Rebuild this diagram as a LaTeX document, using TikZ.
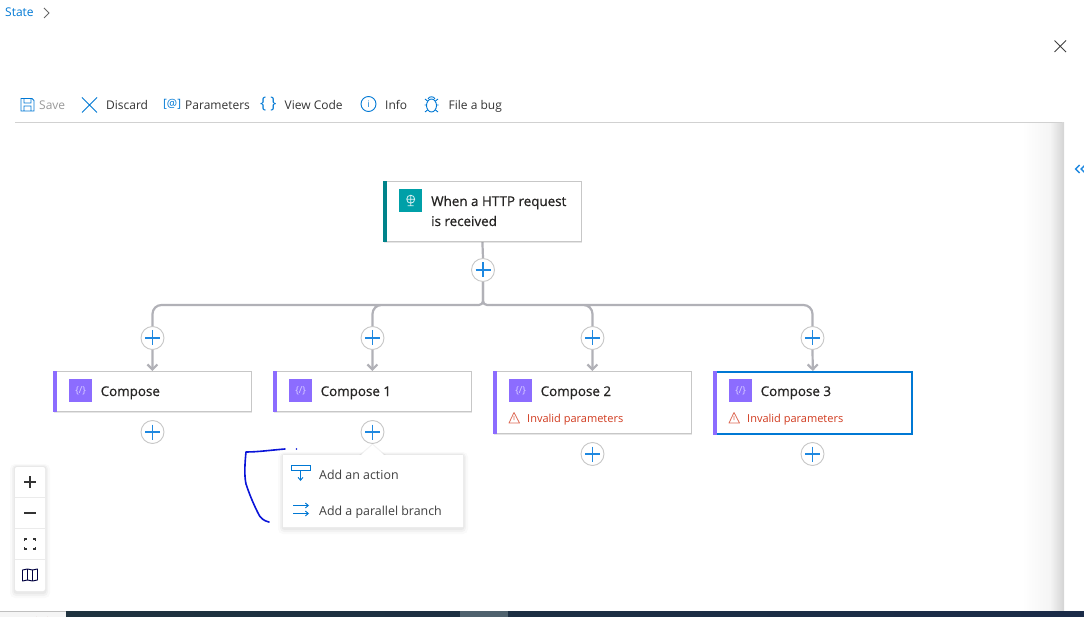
\documentclass[tikz,border=0pt]{standalone}
\usepackage{fontspec}
\setmainfont{Open Sans}
\newfontfamily\cardfont[FakeBold=0.7]{Open Sans}
\usepackage{tikz}
\usetikzlibrary{calc,shapes,positioning}
\usetikzlibrary{shadows,backgrounds}
\usetikzlibrary{arrows.meta}
\tikzset{>={Straight Barb[width=10pt,length=5pt]}}
\definecolor{azure}{HTML}{0078D4}
\definecolor{plusblue}{HTML}{1E88E0}
\definecolor{wiregray}{HTML}{B1B1B7}
\definecolor{compviolet}{HTML}{8C6CFF}
\definecolor{trigteal}{HTML}{00A0A8}
\definecolor{trigbar}{HTML}{00838A}
\definecolor{errred}{HTML}{D13A1E}
\definecolor{inkdark}{HTML}{252423}
\definecolor{penblue}{HTML}{0A14D8}
\definecolor{barteal}{HTML}{1F333F}
\definecolor{barnavy}{HTML}{1B2B48}
\definecolor{barpatch}{HTML}{4F626E}
\newcommand{\softshadow}[4]{%
  \fill[black, opacity=0.02, rounded corners=5pt] (#1-5,#2-3) rectangle (#3+5,#4+7);
  \fill[black, opacity=0.03, rounded corners=4pt] (#1-3,#2-2) rectangle (#3+3,#4+5);
  \fill[black, opacity=0.035, rounded corners=3pt] (#1-1.5,#2-1) rectangle (#3+1.5,#4+3);
}

\begin{document}
\begin{tikzpicture}[x=1pt,y=-1pt]
      \useasboundingbox (0,0) rectangle (1084,617);
      \tikzstyle{cardnode} = [draw=black!22, line width=0.8pt, fill=white, inner sep=0pt, anchor=north west, minimum width=198pt,
        minimum height=40pt, drop shadow={shadow xshift=0.4pt, shadow yshift=-1.5pt, opacity=0.2}]
      \tikzstyle{cardtext} = [anchor=base west, inner sep=0pt, font=\cardfont\fontsize{13.4}{16}\selectfont, text=inkdark]
      \tikzstyle{menutext} = [anchor=base west, inner sep=0pt, font=\fontsize{12.4}{15}\selectfont, text=black!75]
      \tikzstyle{tooltext} = [anchor=base west, inner sep=0pt, font=\fontsize{12}{15}\selectfont, text=black!80]
      \tikzstyle{errtext} = [anchor=base west, inner sep=0pt, font=\fontsize{11}{14}\selectfont, text=errred]
      \tikzstyle{addnode} = [circle, draw=black!22, line width=0.9pt, fill=white, minimum size=23pt, inner sep=0pt,
        path picture={\draw[plusblue, line width=1.5pt] ($(path picture bounding box.center)+(-7.5,0)$) -- ($(path picture bounding box.center)+(7.5,0)$)
          ($(path picture bounding box.center)+(0,-7.5)$) -- ($(path picture bounding box.center)+(0,7.5)$);}]
      \tikzstyle{iconnode} = [fill=compviolet, anchor=north west, minimum size=23pt, inner sep=0pt, text=white!70!compviolet,
        font=\fontsize{9.5}{9}\selectfont]
      \tikzstyle{wire} = [draw=wiregray, line width=2.2pt]
      \tikzstyle{tick} = [azure, line width=0.9pt]

      % right hand panel edge and bottom bar
      \fill[left color=white, right color=black!4] (1022,123) rectangle (1050,611);
      \fill[left color=black!4, right color=black!17] (1050,123) rectangle (1064,611);
      \fill[black!4] (0,611) rectangle (66,617);
      \draw[black!25, line width=0.8pt] (0,611) -- (66,611);
      \draw[red!60!black, line width=0.9pt] (36,617) arc[start angle=180, end angle=360, radius=6, y radius=-6];
      \fill[left color=barteal, right color=barnavy] (66,611) rectangle (1084,617);
      \fill[barpatch] (460,611) rectangle (508,617);

      % header
      \node[anchor=base west, inner sep=0pt, font=\fontsize{12}{15}\selectfont, text=azure] (state) at (5,17) {State};
      \draw[black!60, line width=0.8pt] (44,8) -- (49,13) -- (44,18);
      \draw[black!75, line width=1pt] (1054.5,40.5) -- (1066,52) (1066,40.5) -- (1054.5,52);
      \draw[plusblue, line width=1.4pt] (1079.5,165) -- (1075.5,169) -- (1079.5,173) (1085,165) -- (1081,169) -- (1085,173);

      % toolbar
      \draw[black!18, line width=1pt] (15,123) -- (1062,123);
      \draw[azure, line width=0.9pt] (21,98.5) -- (32,98.5) -- (34,100.5) -- (34,111) -- (21,111) -- cycle
        (24,98.5) rectangle (31,103) (24,111) rectangle (31,106);
      \node[tooltext, text=black!40] (save) at (39,110) {Save};
      \draw[azure, line width=0.9pt] (82,97.5) -- (97,112.5) (97,97.5) -- (82,112.5);
      \node[tooltext] (discard) at (106,110) {Discard};
      \node[anchor=base west, inner sep=0pt, font=\fontsize{11.5}{13}\selectfont, text=azure] (atsign) at (163,107.5) {[@]};
      \node[tooltext] (params) at (185,110) {Parameters};
      \node[anchor=base west, inner sep=0pt, font=\fontsize{16}{16}\selectfont, text=azure] (braces) at (260,109) {\{\ \}};
      \node[tooltext] (viewcode) at (284.5,110) {View Code};
      \node[circle, draw=azure, line width=0.9pt, minimum size=15pt, inner sep=0pt, text=azure, font=\fontsize{9}{9}\selectfont] (infoicon) at (368.5,104) {i};
      \node[tooltext] (info) at (385,110) {Info};
      \node[ellipse, draw=azure, line width=0.9pt, minimum width=10pt, minimum height=13pt, inner sep=0pt] (bug) at (431.5,105.5) {};
      \draw[tick] (425,99) -- (427.5,101) (438,99) -- (435.5,101) (424.5,105) -- (426.5,105) (438.5,105) -- (436.5,105)
        (425,112) -- (427.5,110) (438,112) -- (435.5,110) (428,99) .. controls (429,96) and (434,96) .. (435,99);
      \node[tooltext] (filebug) at (448.5,110) {File a bug};

      % trigger
      \node[cardnode, minimum height=60pt] (trigger) at (383,181) {};
      \fill[trigbar] (trigger.north west) rectangle ($(trigger.south west)+(3.5,0)$);
      \node[iconnode, fill=trigteal] (trigicon) at (399,189) {};
      \draw[white!85!trigteal, line width=0.8pt] (trigicon.center) ++(0,-1.5) circle[radius=4pt] ++(-4,0) -- ++(8,0) ++(-4,-4) -- ++(0,8) -- ++(0,2.5) ++(-3,0) -- ++(6,0);
      \node[cardtext] (trigtop) at (431,206) {When a HTTP request};
      \node[cardtext] (trigbot) at (431,226) {is received};

      % actions
      \node[cardnode] (comp0) at (53,371) {};
      \node[cardnode] (comp1) at (273,371) {};
      \node[cardnode, minimum height=62pt] (comp2) at (493,371) {};
      \node[cardnode, minimum height=62pt, draw=azure, line width=1.6pt, drop shadow={opacity=0}] (comp3) at (713,371) {};
      \fill[compviolet] (comp0.north west) rectangle ($(comp0.south west)+(3.5,0)$);
      \fill[compviolet] (comp1.north west) rectangle ($(comp1.south west)+(3.5,0)$);
      \fill[compviolet] (comp2.north west) rectangle ($(comp2.south west)+(3.5,0)$);
      \fill[compviolet] (comp3.north west) rectangle ($(comp3.south west)+(3.5,0)$);
      \node[iconnode] (icon0) at (69,379) {\{/\}};
      \node[iconnode] (icon1) at (289,379) {\{/\}};
      \node[iconnode] (icon2) at (509,379) {\{/\}};
      \node[iconnode] (icon3) at (729,379) {\{/\}};
      \node[cardtext] (name0) at (100.5,396) {Compose};
      \node[cardtext] (name1) at (320.5,396) {Compose 1};
      \node[cardtext] (name2) at (540.5,396) {Compose 2};
      \node[cardtext] (name3) at (760.5,396) {Compose 3};
      \draw[errred!75, line width=0.8pt, line join=round] (509,423) -- (514,412.5) -- (519.5,423) -- cycle (514,416) -- (514,420);
      \draw[errred!75, line width=0.8pt, line join=round] (729,423) -- (734,412.5) -- (739.5,423) -- cycle (734,416) -- (734,420);
      \node[errtext] (err2) at (527,422) {Invalid parameters};
      \node[errtext] (err3) at (747,422) {Invalid parameters};

      % add buttons
      \coordinate (hubleft) at (474,305);
      \coordinate (hubright) at (492,305);
      \node[addnode] (addroot) at (483,270) {};
      \node[addnode] (add0) at (152.5,338) {};
      \node[addnode] (add1) at (372.5,338) {};
      \node[addnode] (add2) at (592.5,338) {};
      \node[addnode] (add3) at (812.5,338) {};
      \node[addnode] (next0) at (152.5,432) {};
      \node[addnode] (next1) at (372.5,432) {};
      \node[addnode] (next2) at (592.5,454) {};
      \node[addnode] (next3) at (812.5,454) {};

      % wires
      \begin{pgfonlayer}{background}
      \path[wire, rounded corners=4pt] (addroot.south) |- (hubleft);
      \path[wire, rounded corners=4pt] (addroot.south) |- (hubright);
      \path[wire, rounded corners=9pt]
      (hubleft) -| (add0.north)
      (hubleft) -| (add1.north)
      (hubright) -| (add2.north)
      (hubright) -| (add3.north)
      ;
      \path[wire] (trigger.south) -- (addroot.north);
      \path[->, wire] (add0.south) -- (comp0.north);
      \path[->, wire] (add1.south) -- (comp1.north);
      \path[->, wire] (add2.south) -- (comp2.north);
      \path[->, wire] (add3.south) -- (comp3.north);
      \end{pgfonlayer}

      % popup menu
      \softshadow{283}{455}{463}{527}
      \fill[black, opacity=0.05] (358,456) -- (372.5,443.5) -- (387,456) -- cycle;
      \fill[white] (283,455) -- (361,455) -- (372.5,445) -- (384,455) -- (463,455) -- (463,527) -- (283,527) -- cycle;
      \draw[azure, line width=0.9pt] (291,465.5) rectangle (310,470.5);
      \draw[azure, line width=0.9pt, ->, >={Straight Barb[width=5pt,length=3pt]}] (300.5,470.5) -- (300.5,481);
      \node[menutext] (addact) at (319,479) {Add an action};
      \draw[azure, line width=0.9pt, ->, >={Straight Barb[width=5pt,length=3pt]}] (293,505.5) -- (309,505.5);
      \draw[azure, line width=0.9pt, ->, >={Straight Barb[width=5pt,length=3pt]}] (293,513.5) -- (309,513.5);
      \node[menutext] (addpar) at (319,515) {Add a parallel branch};

      % hand drawn mark
      \draw[penblue, line width=1.6pt, line cap=round, line join=round] (285,449) .. controls (272,450) and (258,452) .. (246,452)
        .. controls (245,462) and (244,475) .. (246,484) .. controls (250,496) and (254,505) .. (258,513) .. controls (260,518) and (264,521) .. (269,522);
      \fill[penblue] (296.5,449) circle[radius=0.8pt];

      % zoom controls
      \softshadow{15}{467}{45}{591}
      \fill[white, rounded corners=2pt] (15,467) rectangle (45,591);
      \draw[black!8, line width=0.8pt] (15,497.5) -- (45,497.5) (15,528.5) -- (45,528.5) (15,559.5) -- (45,559.5);
      \draw[black!80, line width=1.3pt] (24,482) -- (36,482) (30,476) -- (30,488);
      \draw[black!80, line width=1.3pt] (24,513) -- (36,513);
      \draw[black!80, line width=1.2pt] (24.5,541) -- (24.5,539) -- (27,539) (33,539) -- (35.5,539) -- (35.5,541)
        (35.5,547) -- (35.5,549) -- (33,549) (27,549) -- (24.5,549) -- (24.5,547);
      \draw[black!75!blue, line width=0.9pt, line join=round] (22.5,570) -- (27.5,569) -- (32.5,570) -- (37.5,569) -- (37.5,580) -- (32.5,581) -- (27.5,580) -- (22.5,581) -- cycle
        (27.5,569) -- (27.5,580) (32.5,570) -- (32.5,581);
    \end{tikzpicture}
\end{document}
